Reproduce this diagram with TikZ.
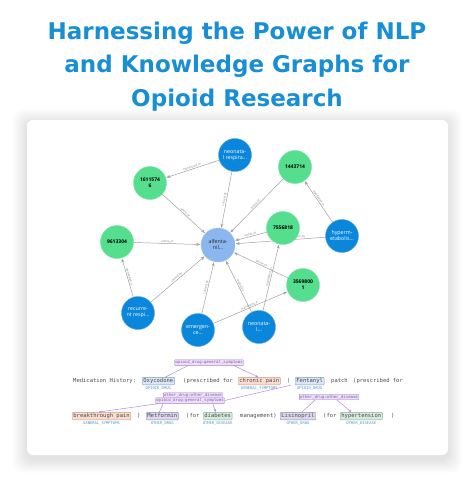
\documentclass[tikz,border=0pt]{standalone}
\usepackage{fontspec}
\setmainfont{DejaVu Sans}
\newfontfamily\titlefont{DejaVu Sans}
\newfontfamily\nodefont{Open Sans}
\newfontfamily\monofont{DejaVu Sans Mono}
\usetikzlibrary{arrows.meta}
\pgfdeclarelayer{bglayer}
\pgfdeclarelayer{edgelayer}
\pgfsetlayers{bglayer,edgelayer,main}
\definecolor{titleblue}{RGB}{24,142,212}
\definecolor{gnode}{RGB}{84,222,142}
\definecolor{bnode}{RGB}{10,134,218}
\definecolor{cnode}{RGB}{140,182,238}
\definecolor{edgegray}{RGB}{160,160,160}
\definecolor{opfill}{RGB}{219,230,246}
\definecolor{opdraw}{RGB}{130,156,200}
\definecolor{gsfill}{RGB}{248,221,208}
\definecolor{gsdraw}{RGB}{208,156,132}
\definecolor{odfill}{RGB}{221,216,236}
\definecolor{oddraw}{RGB}{150,140,184}
\definecolor{disfill}{RGB}{214,234,221}
\definecolor{disdraw}{RGB}{140,178,152}
\definecolor{tagblue}{RGB}{80,150,205}
\definecolor{relfill}{RGB}{236,224,248}
\definecolor{reldraw}{RGB}{170,130,210}
\definecolor{reltext}{RGB}{130,90,170}
\definecolor{relline}{RGB}{180,140,218}
\tikzset{
  titletext/.style={font=\titlefont\bfseries\fontsize{23}{28}\selectfont, text=titleblue, anchor=base, inner sep=0},
  gcircle/.style={circle, fill=gnode, draw=gnode!80!white, line width=0.4pt, minimum size=33pt, inner sep=0, align=center,
    font=\nodefont\bfseries\fontsize{5}{5.8}\selectfont, text=black},
  bcircle/.style={circle, fill=bnode, draw=bnode!70!white, line width=0.4pt, minimum size=33pt, inner sep=0, align=center,
    font=\nodefont\fontsize{5.3}{6}\selectfont, text=white},
  ccircle/.style={circle, fill=cnode, draw=cnode!80!white, line width=0.4pt, minimum size=34pt, inner sep=0, align=center,
    font=\nodefont\fontsize{5.3}{6}\selectfont, text=black!85},
  gedge/.style={draw=edgegray, line width=0.5pt, -{Stealth[length=4pt,width=3pt]}, shorten >=0.5pt},
  elabel/.style={font=\nodefont\fontsize{2.8}{3}\selectfont, text=black!55, sloped, above, inner sep=0.4pt, midway},
  mono/.style={font=\monofont\fontsize{5.5}{6}\selectfont, text=black!70, inner sep=0, anchor=base west},
  ent/.style={font=\monofont\fontsize{5.5}{6}\selectfont, text=black!70, inner sep=1.2pt, anchor=base west,
    text height=4pt, text depth=1.2pt, rounded corners=0.8pt, line width=0.4pt},
  opd/.style={ent, fill=opfill, draw=opdraw},
  gsy/.style={ent, fill=gsfill, draw=gsdraw},
  odr/.style={ent, fill=odfill, draw=oddraw},
  dis/.style={ent, fill=disfill, draw=disdraw},
  tagtext/.style={font=\monofont\fontsize{3.8}{4}\selectfont, text=tagblue, anchor=north, inner sep=0.6pt},
  rel/.style={font=\monofont\fontsize{4}{4.5}\selectfont, text=reltext, fill=relfill, draw=reldraw, line width=0.4pt,
    inner sep=0.8pt, rounded corners=0.6pt},
  relconn/.style={draw=relline, line width=0.5pt},
  relarrow/.style={relconn, -{Stealth[length=3pt,width=2.5pt]}},
}
\begin{document}
\begin{tikzpicture}[x=1pt,y=-1pt]
\useasboundingbox (0,0) rectangle (474,482);
\begin{pgfonlayer}{bglayer}
\fill[white] (0,0) rectangle (474,482);
% card shadow
\foreach \i in {1,...,14} {
  \fill[black, opacity=0.007, rounded corners=10] (27-\i,120-\i+3) rectangle (448+\i,455+\i+4);
}
\fill[white, rounded corners=6] (27,120) rectangle (448,455);
\end{pgfonlayer}

% title
\node[titletext] (t1) at (237,39) {Harnessing the Power of NLP};
\node[titletext] (t2) at (237,72.5) {and Knowledge Graphs for};
\node[titletext] (t3) at (237,106) {Opioid Research};

% graph nodes
\node[ccircle] (alf) at (218,245) {alfenta-\\nil...};
\node[bcircle] (nr1) at (235,155) {neonata-\\l respira...};
\node[gcircle] (g1) at (150,183) {1611574\\6};
\node[gcircle] (g2) at (295,167) {1443714};
\node[gcircle] (g3) at (117,242) {9613304};
\node[gcircle] (g4) at (283,228) {7556818};
\node[bcircle] (hy) at (342,236) {hyperm-\\etabolis...};
\node[gcircle] (g5) at (303,285) {3569800\\1};
\node[bcircle] (rr) at (138,313) {recurre-\\nt respi...};
\node[bcircle] (em) at (198,330) {emergen-\\ce...};
\node[bcircle] (nl) at (259,327) {neonata-\\l...};

% graph edges
\begin{pgfonlayer}{edgelayer}
\draw[gedge] (nr1) -- node[elabel]{manifested\_in} (g1);
\draw[gedge] (nr1) -- node[elabel]{caused\_by} (alf);
\draw[gedge] (g1) -- node[elabel]{article\_of} (alf);
\draw[gedge] (g2) -- node[elabel]{article\_of} (alf);
\draw[gedge] (g3) -- node[elabel]{article\_of} (alf);
\draw[gedge] (g4) -- node[elabel]{article\_of} (alf);
\draw[gedge] (hy) -- node[elabel, pos=0.3]{caused\_by} (alf);
\draw[gedge] (hy) -- node[elabel, pos=0.55]{manifested\_in} (g2);
\draw[gedge] (g5) -- node[elabel]{article\_of} (alf);
\draw[gedge] (rr) -- node[elabel]{manifested\_in} (g3);
\draw[gedge] (rr) -- node[elabel]{caused\_by} (alf);
\draw[gedge] (em) -- node[elabel]{caused\_by} (alf);
\draw[gedge] (em) -- node[elabel]{manifested\_in} (g5);
\draw[gedge] (nl) -- node[elabel]{caused\_by} (alf);
\draw[gedge] (nl) -- node[elabel]{manifested\_in} (g4);
\end{pgfonlayer}

% text line 1
\node[mono] (w1) at (73,382.5) {Medication History:};
\node[opd] (ox) at (142,382.5) {Oxycodone};
\node[mono] (w2) at (183,382.5) {(prescribed for};
\node[gsy] (cp) at (238,382.5) {chronic pain};
\node[mono] (w3) at (287,382.5) {)};
\node[opd] (fe) at (295,382.5) {Fentanyl};
\node[mono] (w4) at (331,382.5) {patch};
\node[mono] (w5) at (353,382.5) {(prescribed for};

% text line 2
\node[gsy] (bp) at (72,417.5) {breakthrough pain};
\node[mono] (w6) at (137,417.5) {)};
\node[odr] (me) at (146,417.5) {Metformin};
\node[mono] (w7) at (186,417.5) {(for};
\node[dis] (di) at (203,417.5) {diabetes};
\node[mono] (w8) at (240,417.5) {management)};
\node[odr] (li) at (280,417.5) {Lisinopril};
\node[mono] (w9) at (323,417.5) {(for};
\node[dis] (hyp) at (340,417.5) {hypertension};
\node[mono] (w10) at (391,417.5) {)};

% tags
\node[tagtext] (tox) at ([yshift=-0.8pt]ox.south) {OPIOID\_DRUG};
\node[tagtext] (tcp) at ([yshift=-0.8pt]cp.south) {GENERAL\_SYMPTOMS};
\node[tagtext] (tfe) at ([yshift=-0.8pt]fe.south) {OPIOID\_DRUG};
\node[tagtext] (tbp) at ([yshift=-0.8pt]bp.south) {GENERAL\_SYMPTOMS};
\node[tagtext] (tme) at ([yshift=-0.8pt]me.south) {OTHER\_DRUG};
\node[tagtext] (tdi) at ([yshift=-0.8pt]di.south) {OTHER\_DISEASE};
\node[tagtext] (tli) at ([yshift=-0.8pt]li.south) {OTHER\_DRUG};
\node[tagtext] (thy) at ([yshift=-0.8pt]hyp.south) {OTHER\_DISEASE};

% relations
\node[rel] (r1) at (209,362.5) {opioid\_drug:general\_symptoms};
\draw[relconn] ([xshift=7pt]ox.north) -- ([xshift=14pt]r1.south west);
\draw[relarrow] ([xshift=-10pt]r1.south east) -- ([xshift=-1pt]cp.north);

\node[rel] (r2a) at (193,395.5) {other\_drug:other\_disease};
\node[rel] (r2b) at (190,400.5) {opioid\_drug:general\_symptoms};
\draw[relconn] ([xshift=-4pt]fe.south west) -- (r2b.east);
\draw[relarrow] ([xshift=4pt]r2b.south west) -- ([xshift=-3pt]bp.north);
\draw[relconn] ([xshift=-3pt]me.north) -- ([xshift=8pt]r2b.south west);
\draw[relarrow] ([xshift=-12pt]r2b.south east) -- ([xshift=-2pt]di.north);

\node[rel] (r3) at (329,397) {other\_drug:other\_disease};
\draw[relconn] ([xshift=4pt]li.north) -- ([xshift=16pt]r3.south west);
\draw[relarrow] ([xshift=-22pt]r3.south east) -- ([xshift=-10pt]hyp.north);
\end{tikzpicture}
\end{document}
